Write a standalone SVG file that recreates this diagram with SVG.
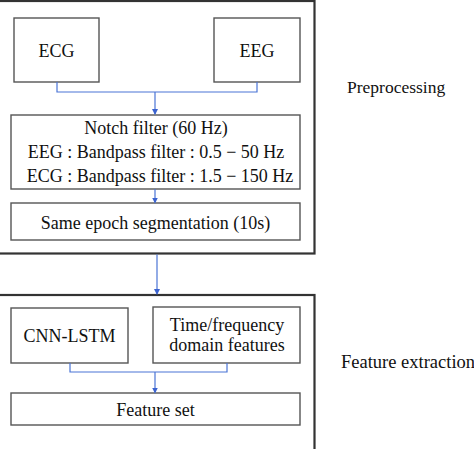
<svg xmlns="http://www.w3.org/2000/svg" width="474" height="449" viewBox="0 0 474 449">
<defs>
<style>
.outer{fill:none;stroke:#333;stroke-width:2.2}
.box{fill:#fff;stroke:#555;stroke-width:1.4}
.t{font-family:"Liberation Serif","Times New Roman",serif;font-size:18px;fill:#111;text-anchor:middle}
.lab{font-family:"Liberation Serif","Times New Roman",serif;font-size:17.5px;fill:#111}
.c{fill:none;stroke:#4a74d6;stroke-width:1.2}
</style>
<marker id="ah" markerWidth="6" markerHeight="6" refX="5" refY="3" orient="auto" markerUnits="userSpaceOnUse">
<path d="M0,0 L6,3 L0,6 Z" fill="#3b63d0"/>
</marker>
</defs>
<rect width="474" height="449" fill="#fff"/>
<g id="preprocessing-group">
<rect class="outer" x="-2" y="1" width="316.5" height="252.5"/>
</g>
<g id="feature-extraction-group">
<rect class="outer" x="-2" y="295" width="316.5" height="160"/>
</g>
<g id="ecg">
<rect class="box" x="14" y="18" width="85" height="64"/>
<text class="t" x="56.5" y="57">ECG</text>
</g>
<g id="eeg">
<rect class="box" x="214" y="18" width="86" height="64"/>
<text class="t" x="257" y="57">EEG</text>
</g>
<g id="filters">
<rect class="box" x="11" y="115" width="289" height="74"/>
<text class="t" x="156" y="134">Notch filter (60 Hz)</text>
<text class="t" x="156" y="158">EEG : Bandpass filter : 0.5 − 50 Hz</text>
<text class="t" x="160" y="182">ECG : Bandpass filter : 1.5 − 150 Hz</text>
</g>
<g id="segmentation">
<rect class="box" x="11" y="203" width="289" height="37"/>
<text class="t" x="155.5" y="229">Same epoch segmentation (10s)</text>
</g>
<g id="cnn-lstm">
<rect class="box" x="11" y="308" width="117" height="55"/>
<text class="t" x="69.5" y="342">CNN-LSTM</text>
</g>
<g id="time-frequency">
<rect class="box" x="153" y="307" width="147" height="56"/>
<text class="t" x="227" y="331">Time/frequency</text>
<text class="t" x="227" y="351">domain features</text>
</g>
<g id="feature-set">
<rect class="box" x="11" y="393" width="289" height="32"/>
<text class="t" x="155.5" y="416">Feature set</text>
</g>
<g id="labels">
<text class="lab" x="347" y="93">Preprocessing</text>
<text class="lab" x="341" y="368" style="font-size:18.5px">Feature extraction</text>
</g>
<g id="connectors">
<path class="c" d="M57,82 V92 H257 V82"/>
<path class="c" d="M155,92 V114" marker-end="url(#ah)"/>
<path class="c" d="M155,189 V202.5" marker-end="url(#ah)"/>
<path class="c" d="M157,254.5 V294" marker-end="url(#ah)"/>
<path class="c" d="M70,363 V372 H227 V363"/>
<path class="c" d="M155,372 V392.5" marker-end="url(#ah)"/>
</g>
</svg>
